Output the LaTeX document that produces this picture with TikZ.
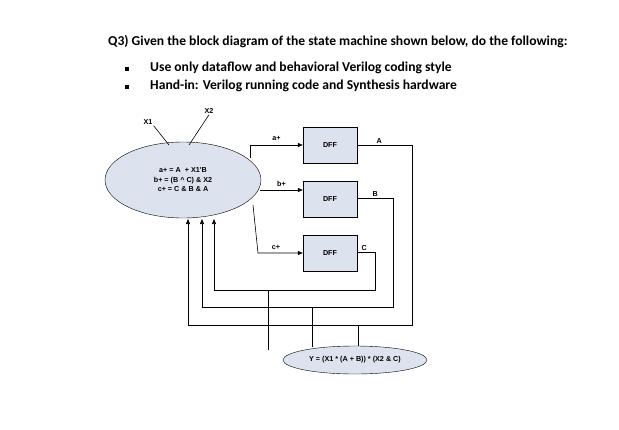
\documentclass[tikz,border=0pt]{standalone}
\usepackage{fontspec}
\setmainfont{Carlito}
\newfontfamily\arialf{Liberation Sans}
\usetikzlibrary{arrows.meta,shapes.geometric}
\definecolor{boxfill}{HTML}{DDE3EE}
\begin{document}
\begin{tikzpicture}[x=1pt,y=-1pt,
  wire/.style={line width=0.6pt},
  arr/.style={wire,-{Triangle[length=5pt,width=4pt]}},
  dff/.style={draw,fill=boxfill,minimum width=54pt,minimum height=36pt,font=\arialf\fontsize{7.2}{8}\selectfont\bfseries},
  lbl/.style={font=\arialf\fontsize{7.2}{8}\selectfont\bfseries,inner sep=1pt},
  head/.style={anchor=west,inner sep=0pt,font=\bfseries\fontsize{13.6}{15}\selectfont}]
\useasboundingbox (0,0) rectangle (619,429);
\node[head] (q) at (108,42) {Q3) Given the block diagram of the state machine shown below, do the following:};
\node[head] (b1) at (125,68) {\rule[1pt]{4pt}{4pt}\hspace{21pt}Use only dataflow and behavioral Verilog coding style};
\node[head] (b2) at (125,86) {\rule[1pt]{4pt}{4pt}\hspace{21pt}Hand-in: Verilog running code and Synthesis hardware};
% main ellipse
\node[draw,ellipse,fill=boxfill,minimum width=156pt,minimum height=76pt,align=center,
  font=\arialf\fontsize{7.2}{9.5}\selectfont\bfseries] (e) at (183,180)
  {a+ = A \;+ X1'B\\ b+ = (B \^{} C) \& X2\\ c+ = C \& B \& A};
\node[lbl] (x1) at (148,122) {X1};
\node[lbl] (x2) at (209,111) {X2};
\coordinate (x1e) at (169,145);
\coordinate (x2e) at (189,145);
\draw[wire] (x1.south east) -- (x1e);
\draw[wire] (x2.south) -- (x2e);
% DFFs
\node[dff] (da) at (330,145) {DFF};
\node[dff] (db) at (330,199) {DFF};
\node[dff] (dc) at (330,253) {DFF};
% next state
\coordinate (ea) at (250,158);
\coordinate (eb) at (260,190);
\coordinate (ec) at (253,205);
\draw[arr] (ea) |- (da.west) node[lbl,pos=0.75,above=3pt] {a+};
\draw[arr] (eb) -- (eb -| db.west) node[lbl,pos=0.5,above=2pt] {b+};
\draw[arr] (ec) -- (258,253) -- (dc.west) node[lbl,pos=0.4,above=2pt] {c+};
% output ellipse
\node[draw,ellipse,fill=boxfill,minimum width=144pt,minimum height=28pt,
  font=\arialf\fontsize{7.2}{8}\selectfont\bfseries] (y) at (355,360) {Y = (X1 * (A + B)) * (X2 \& C)};
% feedback
\draw[arr] (da.east) -- node[lbl,above,pos=0.4] {A} (412,145) -- (412,325) -- (188,325) -- (188,219);
\draw[arr] (db.east |- 0,198) -- node[lbl,above,pos=0.5] {B} (393,198) -- (393,307) -- (202,307) -- (202,219);
\draw[arr] (dc.east |- 0,252) -- node[lbl,above,pos=0.4] {C} (375,252) -- (375,290) -- (214,290) -- (214,219);
\draw[wire] (268,290) -- (268,350);
\draw[wire] (312,307) -- (312,347);
\draw[wire] (358,325) -- (358,346);
\end{tikzpicture}
\end{document}
